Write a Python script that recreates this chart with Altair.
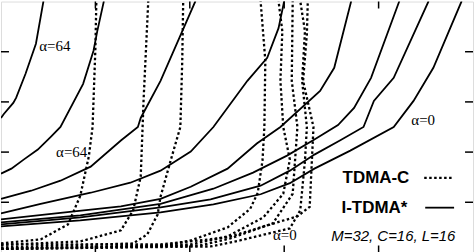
import altair as alt
import pandas as pd

# I-TDMA* curves (solid), x / y in axis units
S1_x = [0, 0.03, 0.13, 0.16, 0.26, 0.37, 0.45]
S1_y = [2.68, 2.76, 2.98, 3.08, 3.56, 4.16, 5.01]
S2_x = [0, 0.11, 0.24, 0.39, 0.53, 0.63, 0.87, 0.98, 1.02, 1.09]
S2_y = [1.57, 1.67, 1.85, 2.05, 2.31, 2.50, 3.36, 4.02, 4.41, 5.01]
S3_x = [0, 0.32, 0.63, 0.95, 1.27, 1.45, 1.48, 1.69, 2.06]
S3_y = [1.07, 1.23, 1.43, 1.71, 2.23, 2.50, 2.68, 3.42, 5.01]
S4_x = [0, 0.42, 0.95, 1.37, 1.69, 2.01, 2.25, 2.61, 2.82, 2.94, 3.00]
S4_y = [0.78, 0.97, 1.19, 1.39, 1.63, 2.01, 2.50, 3.42, 3.88, 4.47, 5.01]
S5_x = [0, 0.63, 1.27, 1.69, 2.01, 2.40, 2.71, 2.96, 3.38, 3.53, 3.71]
S5_y = [0.66, 0.79, 0.92, 1.07, 1.31, 1.67, 2.17, 2.50, 3.22, 3.68, 5.01]
S6_x = [0, 0.84, 1.69, 2.25, 2.67, 3.03, 3.32, 3.57, 3.74, 3.92, 4.22]
S6_y = [0.60, 0.74, 0.97, 1.27, 1.59, 1.93, 2.25, 2.54, 2.88, 3.48, 5.01]
S7_x = [0, 0.84, 1.69, 2.22, 2.75, 3.06, 3.32, 3.59, 3.84, 3.95, 4.16, 4.53]
S7_y = [0.56, 0.70, 0.90, 1.06, 1.33, 1.63, 1.95, 2.23, 2.50, 3.02, 3.48, 5.01]
S8_x = [0, 0.84, 1.69, 2.25, 2.75, 3.06, 3.32, 3.70, 4.16, 4.37, 4.58, 4.88]
S8_y = [0.52, 0.64, 0.80, 0.96, 1.16, 1.38, 1.67, 2.03, 2.50, 3.02, 3.68, 5.01]

# TDMA-C curves (dotted)
D1_x = [0, 0.42, 0.71, 0.84, 0.93, 0.97, 1.00, 1.01]
D1_y = [0.18, 0.26, 0.56, 1.13, 1.91, 2.50, 4.07, 5.01]
D2_x = [0, 0.84, 1.27, 1.40, 1.48, 1.50, 1.51, 1.56]
D2_y = [0.15, 0.22, 0.44, 0.84, 1.51, 2.50, 3.02, 5.01]
D3_x = [0, 1.40, 1.55, 1.66, 1.69, 1.80, 1.90, 1.92, 1.93]
D3_y = [0.10, 0.18, 0.36, 0.76, 1.11, 1.85, 2.50, 3.82, 5.01]
D4_x = [0, 1.69, 2.01, 2.40, 2.64, 2.72, 2.77, 2.79, 2.80, 2.75]
D4_y = [0.07, 0.12, 0.24, 0.50, 0.87, 1.19, 1.83, 2.50, 3.82, 5.01]
D5_x = [0, 2.01, 2.40, 2.78, 2.99, 3.06, 2.99, 2.96, 2.98, 2.94]
D5_y = [0.07, 0.16, 0.32, 0.70, 1.17, 1.85, 2.50, 3.42, 4.41, 5.01]
D6_x = [0, 2.11, 2.43, 2.88, 3.09, 3.14, 3.08, 3.09]
D6_y = [0.07, 0.14, 0.28, 0.58, 1.17, 2.50, 3.42, 5.01]
D7_x = [0, 2.22, 2.53, 3.06, 3.17, 3.22, 3.24, 3.19, 3.22, 3.17]
D7_y = [0.07, 0.12, 0.24, 0.48, 0.84, 1.83, 2.50, 3.42, 4.41, 5.01]
D8_x = [0, 1.69, 2.40, 2.75, 3.14, 3.27, 3.31, 3.20, 3.24, 3.25]
D8_y = [0.16, 0.16, 0.30, 0.50, 0.72, 0.91, 2.50, 3.42, 4.35, 5.01]

x_ticks = [1, 2, 3, 4]
y_ticks = [1, 2, 3, 4]

solid = [(S1_x, S1_y), (S2_x, S2_y), (S3_x, S3_y), (S4_x, S4_y),
         (S5_x, S5_y), (S6_x, S6_y), (S7_x, S7_y), (S8_x, S8_y)]
dotted = [(D1_x, D1_y), (D2_x, D2_y), (D3_x, D3_y), (D4_x, D4_y),
          (D5_x, D5_y), (D6_x, D6_y), (D7_x, D7_y), (D8_x, D8_y)]

rows = []
for k, (xs_, ys_) in enumerate(solid):
    for i, (a, b) in enumerate(zip(xs_, ys_)):
        rows.append({"curve": f"S{k}", "kind": "I-TDMA*", "i": i, "x": a, "y": b})
for k, (xs_, ys_) in enumerate(dotted):
    for i, (a, b) in enumerate(zip(xs_, ys_)):
        rows.append({"curve": f"D{k}", "kind": "TDMA-C", "i": i, "x": a, "y": b})
df = pd.DataFrame(rows)

xs = alt.Scale(domain=[0, 5], nice=False, zero=False)
ys = alt.Scale(domain=[0, 5], nice=False, zero=False)

base = alt.Chart(df).encode(
    x=alt.X("x:Q", scale=xs, axis=None),
    y=alt.Y("y:Q", scale=ys, axis=None),
    detail="curve:N",
    order="i:Q",
)
solid_l = base.transform_filter(alt.datum.kind == "I-TDMA*").mark_line(
    clip=True, color="black", strokeWidth=1.8)
dot_l = base.transform_filter(alt.datum.kind == "TDMA-C").mark_line(
    clip=True, color="black", strokeWidth=2.3, strokeDash=[2.5, 2.5])

xt = pd.DataFrame({"t": x_ticks})
yt = pd.DataFrame({"t": y_ticks})
top_t = alt.Chart(xt).mark_rule(color="black", strokeWidth=1.5).encode(
    x=alt.X("t:Q", scale=xs, axis=None), y=alt.value(0), y2=alt.value(7))
bot_t = alt.Chart(xt).mark_rule(color="black", strokeWidth=1.5).encode(
    x=alt.X("t:Q", scale=xs, axis=None), y=alt.value(245), y2=alt.value(252))
left_t = alt.Chart(yt).mark_rule(color="black", strokeWidth=1.5).encode(
    y=alt.Y("t:Q", scale=ys, axis=None), x=alt.value(0), x2=alt.value(8))
right_t = alt.Chart(yt).mark_rule(color="black", strokeWidth=1.5).encode(
    y=alt.Y("t:Q", scale=ys, axis=None), x=alt.value(466), x2=alt.value(474))

labels = pd.DataFrame({
    "text": ["α=64", "α=64", "α=0", "α=0"],
    "px": [54, 71, 424, 285],
    "py": [45, 151, 119, 234],
})
alpha_t = alt.Chart(labels).mark_text(
    font="Liberation Serif", fontSize=15, color="black", baseline="middle"
).encode(x=alt.X("px:Q", scale=None), y=alt.Y("py:Q", scale=None), text="text:N")

leg = pd.DataFrame({"text": ["TDMA-C", "I-TDMA*"], "px": [410, 408], "py": [177, 207]})
leg_t = alt.Chart(leg).mark_text(
    font="Liberation Sans", fontSize=17, fontWeight="bold", color="black",
    align="right", baseline="middle"
).encode(x=alt.X("px:Q", scale=None), y=alt.Y("py:Q", scale=None), text="text:N")

note = alt.Chart(pd.DataFrame({"text": ["M=32, C=16, L=16"]})).mark_text(
    font="Liberation Sans", fontSize=15, fontStyle="italic", color="black",
    align="center", baseline="middle"
).encode(x=alt.value(394), y=alt.value(235), text="text:N")

samp_dot = alt.Chart(pd.DataFrame({"k": [0]})).mark_rule(
    color="black", strokeWidth=2.3, strokeDash=[2.5, 2.5]
).encode(x=alt.value(425), x2=alt.value(453), y=alt.value(177))
samp_sol = alt.Chart(pd.DataFrame({"k": [0]})).mark_rule(
    color="black", strokeWidth=1.8
).encode(x=alt.value(426), x2=alt.value(455), y=alt.value(207))

chart = alt.layer(
    dot_l, solid_l, top_t, bot_t, left_t, right_t,
    alpha_t, leg_t, note, samp_dot, samp_sol
).properties(width=474, height=252, padding=0).configure_view(
    stroke="#d9d9d9", strokeWidth=2
).configure(background="white")

chart.save("out.html", embed_options={"renderer": "svg", "actions": False})
